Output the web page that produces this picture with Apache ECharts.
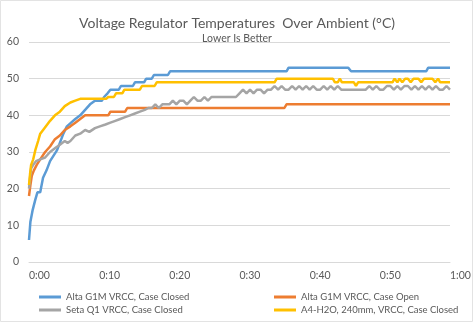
<!DOCTYPE html>
<html>
<head>
<meta charset="utf-8">
<script src="https://cdn.jsdelivr.net/npm/echarts@6/dist/echarts.min.js"></script>
<style>
html, body { margin: 0; padding: 0; background: #fff; }
#chart { width: 474px; height: 323px; }
</style>
</head>
<body>
<div id="chart"></div>
<script>
// x轴刻度（分钟）
var xTicks = [0, 10, 20, 30, 40, 50, 60];
var yTicks = [0, 10, 20, 30, 40, 50, 60];

var seriesNames = [
    "Alta G1M VRCC, Case Closed",
    "Alta G1M VRCC, Case Open",
    "Seta Q1 VRCC, Case Closed",
    "A4-H2O, 240mm, VRCC, Case Closed"
];

// [分钟, 温度]
var altaClosed = [
    [0, 6], [0.2, 11], [0.5, 14], [0.9, 17], [1.2, 19], [1.6, 19], [2.0, 23], [2.5, 25],
    [3.0, 27.5], [3.5, 29], [4.0, 30.5], [4.4, 32.5], [4.9, 35], [5.4, 37], [6.0, 38],
    [6.6, 39], [7.3, 40], [8.0, 41.5], [8.7, 43], [9.4, 44], [10.4, 44], [10.7, 45],
    [11.2, 46], [11.6, 47], [12.8, 47], [13.1, 48], [14.8, 48], [15.1, 49], [16.4, 49],
    [16.7, 50], [17.5, 50], [17.8, 51], [19.8, 51], [20.1, 52], [36.7, 52], [37.0, 53],
    [45.5, 53], [45.9, 52], [56.6, 52], [56.9, 53], [60, 53]
];

var altaOpen = [
    [0, 18], [0.2, 21], [0.4, 23.5], [0.7, 25], [1.1, 26.5], [1.6, 28], [2.3, 30],
    [3.0, 31.5], [3.7, 33.5], [4.4, 34.5], [5.1, 36], [5.9, 37], [6.6, 38], [7.3, 39],
    [8.0, 40], [11.3, 40], [11.6, 41], [13.7, 41], [14.0, 42], [36.4, 42], [36.7, 43],
    [60, 43]
];

var setaClosed = [
    [0, 20], [0.15, 23], [0.3, 25.5], [0.6, 26.5], [1.0, 27.5], [1.6, 28], [2.3, 28.5],
    [3.0, 30], [3.7, 31], [4.4, 32], [5.1, 33], [5.5, 32.5], [5.9, 33], [6.6, 34.5],
    [7.3, 35], [8.0, 36], [8.6, 35.5], [9.4, 36.5], [10.1, 37], [10.9, 37.5], [11.6, 38],
    [12.3, 38.5], [13.0, 39], [13.7, 39.5], [14.4, 40], [15.1, 40.5], [15.8, 41],
    [16.5, 41.5], [17.0, 42], [17.5, 42], [18.0, 43], [18.5, 42], [19.0, 43], [19.5, 43],
    [20.0, 43], [20.5, 44], [21.0, 43], [21.5, 44], [22.0, 44], [22.5, 43], [23.0, 44],
    [23.5, 45], [24.0, 44], [24.5, 44], [25.0, 45], [25.5, 44], [26.0, 45], [26.5, 45],
    [27.0, 45], [27.5, 45], [28.0, 45], [28.5, 45], [29.0, 45], [29.5, 45], [30.0, 46],
    [30.5, 47], [31.0, 46], [31.5, 47], [32.0, 46], [32.5, 47], [33.0, 47], [33.5, 46],
    [34.0, 47], [34.5, 47], [35.0, 48], [35.5, 47], [36.0, 48], [36.5, 47], [37.0, 47],
    [37.5, 48], [38.0, 47], [38.5, 48], [39.0, 47], [39.5, 48], [40.0, 47], [40.5, 48],
    [41.0, 47], [41.5, 47], [42.0, 48], [42.5, 47], [43.0, 48], [43.5, 47], [44.0, 48],
    [44.5, 47], [45.0, 47], [45.5, 47], [46.0, 47], [46.5, 47], [47.0, 47], [47.5, 47],
    [48.0, 47], [48.5, 48], [49.0, 47], [49.5, 48], [50.0, 47], [50.5, 47], [51.0, 48],
    [51.5, 48], [52.0, 47], [52.5, 48], [53.0, 47], [53.5, 48], [54.0, 48], [54.5, 47],
    [55.0, 48], [55.5, 47], [56.0, 48], [56.5, 47], [57.0, 48], [57.5, 47], [58.0, 48],
    [58.5, 47], [59.0, 47], [59.5, 48], [60, 47]
];

var a4Closed = [
    [0, 21], [0.15, 24], [0.3, 26.5], [0.6, 28], [0.9, 30.5], [1.3, 33], [1.6, 35],
    [2.2, 36.5], [3.0, 38.5], [3.7, 40], [4.4, 41], [5.1, 42.5], [5.9, 43.5], [6.6, 44],
    [7.3, 44.5], [11.0, 44.5], [11.3, 45], [12.1, 45], [12.4, 46], [13.3, 46], [13.6, 47],
    [15.8, 47], [16.1, 48], [17.9, 48], [18.2, 49], [35.0, 49], [35.3, 50], [43.3, 50],
    [43.6, 49], [44.0, 49], [44.3, 50], [44.6, 49], [46.3, 49], [46.6, 48], [46.9, 49],
    [51.8, 49], [52.1, 50], [52.5, 49], [52.8, 50], [53.2, 49], [53.6, 50], [54.0, 50],
    [54.4, 49], [54.8, 50], [55.5, 50], [55.9, 49], [56.3, 50], [57.5, 50], [57.9, 49],
    [58.3, 50], [58.6, 49], [59.0, 49], [60, 49]
];

var colors = ["#5B9BD5", "#ED7D31", "#A5A5A5", "#FFC000"];
var allData = [altaClosed, altaOpen, setaClosed, a4Closed];

var chart = echarts.init(document.getElementById("chart"), null, { renderer: "canvas" });

function fmtTime(v) {
    var h = Math.floor(v / 60);
    var m = v % 60;
    return h + ":" + (m < 10 ? "0" + m : m);
}

var series = [];
for (var i = 0; i < allData.length; i++) {
    series.push({
        name: seriesNames[i],
        type: "line",
        data: allData[i],
        showSymbol: false,
        symbol: "none",
        lineStyle: { width: 2.5, color: colors[i] },
        itemStyle: { color: colors[i] }
    });
}

var legendText = { color: "#595959", fontSize: 9.5, fontFamily: "Lato" };

var option = {
    animation: false,
    backgroundColor: "#fff",
    title: {
        text: "Voltage Regulator Temperatures  Over Ambient (°C)",
        subtext: "Lower Is Better",
        left: "center",
        top: 11,
        itemGap: 3,
        textStyle: { color: "#595959", fontSize: 14, fontWeight: "normal", fontFamily: "Lato" },
        subtextStyle: { color: "#595959", fontSize: 10.5, fontFamily: "Lato" }
    },
    grid: { left: 29, right: 24, top: 42, bottom: 61 },
    legend: [
        {
            data: [seriesNames[0], seriesNames[2]],
            orient: "vertical",
            left: 34,
            top: 287,
            icon: "rect",
            itemWidth: 22,
            itemHeight: 3,
            itemGap: 3,
            itemStyle: { borderWidth: 0 },
            textStyle: legendText
        },
        {
            data: [seriesNames[1], seriesNames[3]],
            orient: "vertical",
            left: 269,
            top: 287,
            icon: "rect",
            itemWidth: 22,
            itemHeight: 3,
            itemGap: 3,
            itemStyle: { borderWidth: 0 },
            textStyle: legendText
        }
    ],
    xAxis: {
        type: "value",
        min: xTicks[0],
        max: xTicks[xTicks.length - 1],
        interval: 10,
        axisLine: { show: true, lineStyle: { color: "#D9D9D9" } },
        axisTick: { show: false },
        splitLine: { show: false },
        axisLabel: {
            color: "#595959",
            fontSize: 10.5,
            fontFamily: "Lato",
            align: "left",
            margin: 8,
            formatter: fmtTime
        }
    },
    yAxis: {
        type: "value",
        min: yTicks[0],
        max: yTicks[yTicks.length - 1],
        interval: 10,
        axisLine: { show: false },
        axisTick: { show: false },
        splitLine: { lineStyle: { color: "#D9D9D9", width: 1 } },
        axisLabel: { color: "#595959", fontSize: 10.5, fontFamily: "Lato", margin: 10 }
    },
    graphic: [
        {
            type: "rect",
            shape: { x: 0.5, y: 0.5, width: 472, height: 321 },
            style: { fill: "none", stroke: "#E3E3E3", lineWidth: 1 },
            silent: true
        }
    ],
    series: series
};

chart.setOption(option);
</script>
</body>
</html>
